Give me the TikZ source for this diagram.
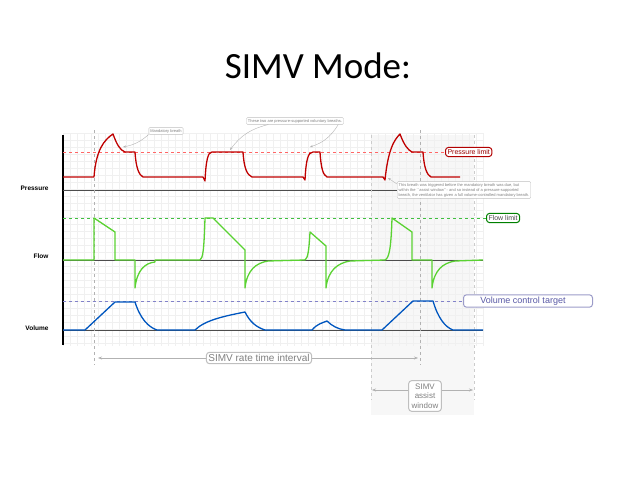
\documentclass[tikz,border=0pt]{standalone}
\usepackage{fontspec}
\setmainfont{Carlito}
\newfontfamily\arialf{Liberation Sans}
\usetikzlibrary{arrows.meta}
\definecolor{flowg}{RGB}{90,210,50}
\begin{document}
\begin{tikzpicture}[x=1pt,y=-1pt,
  note/.style={draw=gray!50,fill=white,rounded corners=1pt,font=\arialf\fontsize{4}{5}\selectfont,text=gray,inner sep=1.5pt},
  bignote/.style={draw=gray!50,fill=white,rounded corners=3pt,line width=1pt,font=\arialf\fontsize{10}{11}\selectfont,text=gray,inner sep=2pt},
  lab/.style={font=\arialf\bfseries\fontsize{6.5}{7}\selectfont,anchor=east},
  wave/.style={line width=1.3pt,line join=round},
  ptr/.style={gray!60,-{Stealth[length=3pt]},line width=0.4pt}]
\useasboundingbox (0,0) rectangle (638,479);
\node[font=\fontsize{37}{42}\selectfont] (title) at (318,66) {SIMV Mode:};
% shaded assist window
\fill[gray!6] (371,135) rectangle (474,415);
% grid
\foreach \gx in {63,70,...,483} \draw[gray!12,line width=0.3pt] (\gx,133) -- (\gx,346);
\foreach \gy in {133,140,...,346} \draw[gray!12,line width=0.3pt] (63,\gy) -- (483,\gy);
% axis and baselines
\draw[black,line width=1.2pt] (63,135) -- (63,345);
\draw[black!70,line width=0.8pt] (63,190) -- (483,190);
\draw[black!70,line width=0.8pt] (63,260) -- (483,260);
\draw[black!70,line width=0.8pt] (63,330) -- (483,330);
\node[lab] (pl) at (52,188) {Pressure};
\node[lab] (fl) at (52,256) {Flow};
\node[lab] (vl) at (52,328) {Volume};
% vertical dashed
\draw[gray!60,dashed,line width=0.4pt] (94,130) -- (94,365);
\draw[gray!60,dashed,line width=0.4pt] (420,130) -- (420,365);
\draw[gray!40,dashed,line width=0.4pt] (371,135) -- (371,400);
\draw[gray!40,dashed,line width=0.4pt] (474,135) -- (474,400);
% limits
\draw[red!60,dashed,line width=0.8pt] (63,152) -- (445,152);
\node[bignote,draw=red!70!black,text=red!60!black,anchor=west,font=\arialf\fontsize{7}{8}\selectfont] (plim) at (445,152) {Pressure limit};
\draw[green!50!gray,dashed,line width=0.8pt] (63,218) -- (486,218);
\node[bignote,draw=green!50!black,text=gray!60!black,anchor=west,font=\arialf\fontsize{7}{8}\selectfont] (flim) at (486,218) {Flow limit};
\draw[blue!40!gray!70,dashed,line width=0.6pt] (63,301) -- (463,301);
\node[bignote,draw=blue!30!gray!60,text=blue!30!gray,anchor=west,minimum width=129pt,font=\arialf\fontsize{9}{10}\selectfont,align=left] (vlim) at (463,301) {Volume control target\hspace{10pt}};
% pressure
\draw[wave,red!75!black] (63,177) -- (94,177) .. controls (96,150) and (104,140) .. (113,134)
  .. controls (117,145) and (120,150) .. (125,152) -- (135,152) .. controls (136,168) and (139,175) .. (143,177)
  -- (203,177) -- (205,181) .. controls (206,160) and (208,152) .. (212,152) -- (243,152)
  .. controls (244,168) and (247,175) .. (252,177) -- (303,177) -- (305,180)
  .. controls (306,160) and (308,152) .. (313,152) -- (320,152) .. controls (321,168) and (323,175) .. (327,177)
  -- (383,177) -- (385,180) .. controls (388,150) and (394,140) .. (400,134)
  .. controls (404,145) and (408,150) .. (412,152) -- (423,152) .. controls (424,168) and (427,175) .. (431,177) -- (460,177);
% flow
\draw[wave,flowg] (63,260) -- (94,260) -- (94,218) -- (115,232) -- (115,260) -- (135,260) -- (135,288)
  .. controls (137,270) and (145,263) .. (155,262) -- (155,260) -- (200,260) .. controls (203,258) and (204,250) .. (205,218)
  -- (213,218) -- (245,250) -- (245,288) .. controls (247,270) and (256,263) .. (268,261) -- (305,260)
  .. controls (308,258) and (309,250) .. (310,232) -- (326,246) -- (326,288) .. controls (328,270) and (338,263) .. (350,261)
  -- (385,260) .. controls (389,258) and (391,250) .. (392,218) -- (412,232) -- (412,260) -- (432,260) -- (432,288)
  .. controls (434,270) and (443,263) .. (455,261) -- (483,260);
% volume
\draw[wave,blue!55!cyan!75!black] (63,330) -- (85,330) -- (115,302) -- (135,302) .. controls (140,318) and (148,327) .. (157,330)
  -- (195,330) .. controls (205,320) and (225,316) .. (245,312) .. controls (250,322) and (256,327) .. (265,330)
  -- (312,330) .. controls (317,324) and (322,323) .. (327,321) .. controls (332,326) and (338,329) .. (345,330)
  -- (382,330) -- (413,301) -- (433,301) .. controls (438,318) and (445,327) .. (453,330) -- (483,330);
% interval arrows
\node[bignote] (rate) at (259,358) {SIMV rate time interval};
\coordinate (ra) at (98,358); \coordinate (rb) at (418,358);
\draw[gray!60,line width=0.5pt,-{Stealth[length=4pt]}] (rate) -- (ra);
\draw[gray!60,line width=0.5pt,-{Stealth[length=4pt]}] (rate) -- (rb);
\node[bignote,align=center,font=\arialf\fontsize{8}{9.5}\selectfont,inner sep=3pt] (aw) at (425,396) {SIMV\\assist\\window};
\coordinate (aa) at (372,390); \coordinate (ab) at (473,390);
\draw[gray!60,line width=0.5pt,-{Stealth[length=4pt]}] (aw.west|-aa) -- (aa);
\draw[gray!60,line width=0.5pt,-{Stealth[length=4pt]}] (aw.east|-ab) -- (ab);
% notes
\node[note] (mb) at (166,131) {Mandatory breath};
\coordinate (mbt) at (123,147);
\draw[ptr] (mb.south west) to[bend left=15] (mbt);
\node[note] (tt) at (295,121) {These two are pressure-supported voluntary breaths.};
\coordinate (t1) at (230,150); \coordinate (t2) at (310,147);
\draw[ptr] (tt.south west)++(22,0) to[bend right=20] (t1);
\draw[ptr] (tt.south west)++(92,0) to[bend left=20] (t2);
\node[note,align=left,anchor=west] (nb) at (397,190) {This breath was triggered before the mandatory breath was due, but\\within the ``assist window'' - and so instead of a pressure-supported\\breath, the ventilator has given a full volume-controlled mandatory breath.};
\coordinate (nbt) at (388,178);
\draw[ptr] (nb.west)++(0,-6) -- (nbt);
\end{tikzpicture}
\end{document}
